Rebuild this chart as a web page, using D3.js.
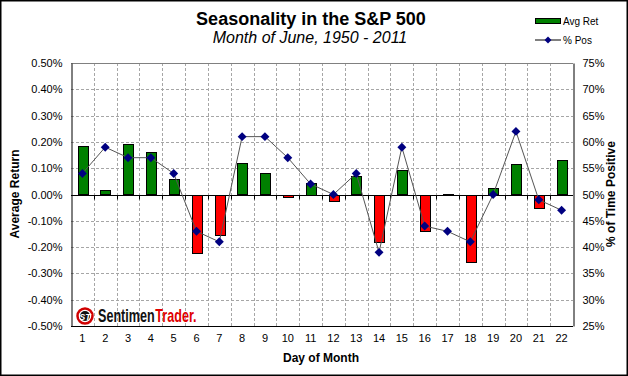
<!DOCTYPE html>
<html>
<head>
<meta charset="utf-8">
<script src="https://cdn.jsdelivr.net/npm/d3@7"></script>
<style>
  body { margin: 0; background: #fff; }
  svg { display: block; font-family: Arial, "Liberation Sans", sans-serif; }
</style>
</head>
<body>
<svg class="chart"></svg>
<script>
// days of the month and the two series
var days = [1, 2, 3, 4, 5, 6, 7, 8, 9, 10, 11, 12, 13, 14, 15, 16, 17, 18, 19, 20, 21, 22];
var avgRet = [0.183, 0.016, 0.191, 0.160, 0.058, -0.220, -0.152, 0.119, 0.081, -0.007, 0.045,
              -0.022, 0.070, -0.180, 0.093, -0.138, 0.003, -0.254, 0.023, 0.115, -0.050, 0.130];
var pctPos = [54, 59, 57, 57, 54, 43, 41, 61, 61, 57, 52, 50, 54, 39, 59, 44, 43, 41, 50, 62, 49, 47];
var leftTicks = [-0.5, -0.4, -0.3, -0.2, -0.1, 0, 0.1, 0.2, 0.3, 0.4, 0.5];
var rightTicks = [25, 30, 35, 40, 45, 50, 55, 60, 65, 70, 75];

var W = 628, H = 376;
var plot = {left: 71, right: 573, top: 63, bottom: 326};

var svg = d3.select('.chart')
    .attr('width', W)
    .attr('height', H);

// outer frame
svg.append('rect')
    .attr('x', 0.75).attr('y', 0.75)
    .attr('width', W - 1.5).attr('height', H - 1.5)
    .attr('fill', '#fff')
    .attr('stroke', '#000')
    .attr('stroke-width', 1.5);

var x = d3.scaleBand()
    .domain(days)
    .range([plot.left, plot.right]);

var y = d3.scaleLinear()
    .domain([-0.5, 0.5])
    .range([plot.bottom, plot.top]);

var y2 = d3.scaleLinear()
    .domain([25, 75])
    .range([plot.bottom, plot.top]);

// square-ish diamond like the excel marker
var diamond = {
  draw: function (ctx, size) {
    var r = Math.sqrt(size / 2);
    ctx.moveTo(0, -r);
    ctx.lineTo(r, 0);
    ctx.lineTo(0, r);
    ctx.lineTo(-r, 0);
    ctx.closePath();
  }
};

// grid
var grid = svg.append('g');
grid.selectAll('.hg')
    .data(leftTicks.slice(1, -1))
    .enter().append('line')
    .attr('x1', plot.left).attr('x2', plot.right)
    .attr('y1', function (d) { return Math.round(y(d)) + 0.5; })
    .attr('y2', function (d) { return Math.round(y(d)) + 0.5; })
    .attr('stroke', '#a6a6a6')
    .attr('stroke-dasharray', '3,2');
grid.selectAll('.vg')
    .data(days.slice(1))
    .enter().append('line')
    .attr('x1', function (d) { return Math.round(x(d)) + 0.5; })
    .attr('x2', function (d) { return Math.round(x(d)) + 0.5; })
    .attr('y1', plot.top).attr('y2', plot.bottom)
    .attr('stroke', '#a6a6a6')
    .attr('stroke-dasharray', '3,2');

// logo (background watermark)
var logo = svg.append('g').attr('transform', 'translate(85,316)');
logo.append('circle').attr('r', 7.5).attr('fill', '#fff').attr('stroke', '#d00000').attr('stroke-width', 2.5);
logo.append('circle').attr('r', 5).attr('fill', '#111');
logo.append('text')
    .attr('y', 3.5)
    .attr('text-anchor', 'middle')
    .style('font-size', '9px').style('font-weight', 'bold').style('font-style', 'italic')
    .attr('fill', '#fff')
    .text('ST');
var brand = logo.append('g').attr('transform', 'translate(13,6) scale(0.7,1)');
var b1 = brand.append('text')
    .style('font-size', '18px').style('font-weight', '900')
    .attr('fill', '#111')
    .text('Sentimen');
brand.append('text')
    .attr('x', b1.node().getComputedTextLength() + 1)
    .style('font-size', '18px').style('font-weight', '900')
    .attr('fill', '#e00000')
    .text('Trader.');

// bars
svg.append('g').selectAll('rect')
    .data(avgRet)
    .enter().append('rect')
    .attr('x', function (d, i) { return Math.round(x(days[i]) + x.bandwidth() * 0.29) + 0.5; })
    .attr('width', Math.round(x.bandwidth() * 0.42))
    .attr('y', function (d) { return Math.round(y(Math.max(0, d))) + 0.5; })
    .attr('height', function (d) { return Math.max(1, Math.round(Math.abs(y(d) - y(0)))); })
    .attr('fill', function (d) { return d >= 0 ? '#008000' : '#ff0000'; })
    .attr('stroke', '#000')
    .attr('stroke-width', 1);

// zero line with category ticks
var zy = Math.round(y(0)) + 0.5;
svg.append('line')
    .attr('x1', plot.left).attr('x2', plot.right)
    .attr('y1', zy).attr('y2', zy)
    .attr('stroke', '#000');
svg.append('g').selectAll('line')
    .data(days.slice(1))
    .enter().append('line')
    .attr('x1', function (d) { return Math.round(x(d)) + 0.5; })
    .attr('x2', function (d) { return Math.round(x(d)) + 0.5; })
    .attr('y1', zy).attr('y2', zy + 4)
    .attr('stroke', '#000');

// plot frame
svg.append('line')
    .attr('x1', plot.left).attr('x2', plot.right)
    .attr('y1', plot.top + 0.5).attr('y2', plot.top + 0.5)
    .attr('stroke', '#808080');
svg.append('line')
    .attr('x1', plot.left).attr('x2', plot.right)
    .attr('y1', plot.bottom + 0.5).attr('y2', plot.bottom + 0.5)
    .attr('stroke', '#000');

// axes
var fmtL = function (d) { return (Math.abs(d) < 1e-9 ? 0 : d).toFixed(2) + '%'; };
var leftAxis = svg.append('g')
    .attr('transform', 'translate(' + (plot.left + 0.5) + ',0)')
    .call(d3.axisLeft(y).tickValues(leftTicks).tickFormat(fmtL).tickSize(0).tickPadding(9));
var rightAxis = svg.append('g')
    .attr('transform', 'translate(' + (plot.right + 0.5) + ',0)')
    .call(d3.axisRight(y2).tickValues(rightTicks).tickFormat(function (d) { return d + '%'; }).tickSize(0).tickPadding(9));
var bottomAxis = svg.append('g')
    .attr('transform', 'translate(0,' + (plot.bottom + 0.5) + ')')
    .call(d3.axisBottom(x).tickSize(0).tickPadding(8));
bottomAxis.select('.domain').remove();
[leftAxis, rightAxis].forEach(function (a) {
  a.select('.domain').attr('stroke', '#000');
});
[leftAxis, rightAxis, bottomAxis].forEach(function (a) {
  a.selectAll('text')
      .style('font-family', 'Arial, "Liberation Sans", sans-serif')
      .style('font-size', '11px')
      .attr('fill', '#000');
});

// % positive line
var line = d3.line()
    .x(function (d, i) { return x(days[i]) + x.bandwidth() / 2; })
    .y(function (d) { return y2(d); });
svg.append('path')
    .datum(pctPos)
    .attr('d', line)
    .attr('fill', 'none')
    .attr('stroke', '#555')
    .attr('stroke-width', 1);
svg.append('g').selectAll('path')
    .data(pctPos)
    .enter().append('path')
    .attr('transform', function (d, i) {
      return 'translate(' + (x(days[i]) + x.bandwidth() / 2) + ',' + y2(d) + ')';
    })
    .attr('d', d3.symbol().type(diamond).size(40))
    .attr('fill', '#000080');

// titles
svg.append('text')
    .attr('x', 311).attr('y', 25)
    .attr('text-anchor', 'middle')
    .style('font-size', '18px').style('font-weight', 'bold')
    .text('Seasonality in the S&P 500');
svg.append('text')
    .attr('x', 310).attr('y', 43)
    .attr('text-anchor', 'middle')
    .style('font-size', '16px').style('font-style', 'italic')
    .text('Month of June, 1950 - 2011');

svg.append('text')
    .attr('transform', 'translate(19,194) rotate(-90)')
    .attr('text-anchor', 'middle')
    .style('font-size', '12px').style('font-weight', 'bold')
    .text('Average Return');
svg.append('text')
    .attr('transform', 'translate(615,194) rotate(-90)')
    .attr('text-anchor', 'middle')
    .style('font-size', '12px').style('font-weight', 'bold')
    .text('% of Time Positive');
svg.append('text')
    .attr('x', 321).attr('y', 362)
    .attr('text-anchor', 'middle')
    .style('font-size', '12px').style('font-weight', 'bold')
    .text('Day of Month');

// legend
var legend = svg.append('g');
legend.append('rect')
    .attr('x', 535.5).attr('y', 18.5)
    .attr('width', 25).attr('height', 5)
    .attr('fill', '#008000').attr('stroke', '#000');
legend.append('text')
    .attr('x', 563).attr('y', 25)
    .style('font-size', '10px')
    .text('Avg Ret');
legend.append('line')
    .attr('x1', 535).attr('x2', 561)
    .attr('y1', 40).attr('y2', 40)
    .attr('stroke', '#000');
legend.append('path')
    .attr('transform', 'translate(548,40)')
    .attr('d', d3.symbol().type(diamond).size(24))
    .attr('fill', '#000080');
legend.append('text')
    .attr('x', 563).attr('y', 44)
    .style('font-size', '10px')
    .text('% Pos');
</script>
</body>
</html>
